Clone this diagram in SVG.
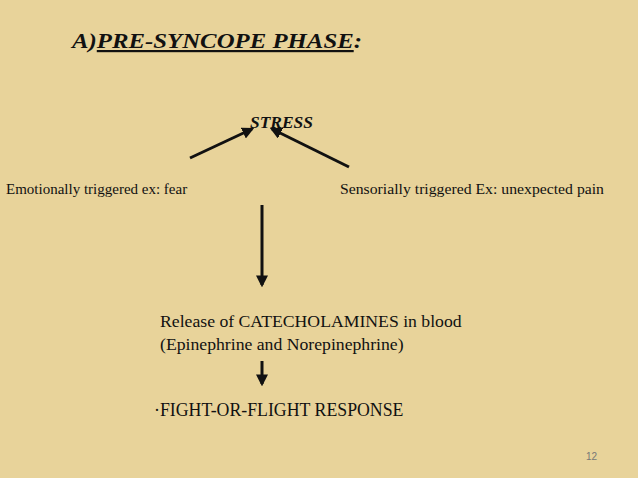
<svg xmlns="http://www.w3.org/2000/svg" width="638" height="478" viewBox="0 0 638 478">
<style>
.t{font-family:"Liberation Serif",serif;fill:#111}
.bi{font-style:italic;font-weight:bold}
.c{stroke:#111;stroke-width:3;fill:none}
</style>
<defs><marker id="a" viewBox="0 0 10 10" refX="8" refY="5" markerWidth="4" markerHeight="4" orient="auto"><path d="M0,0L10,5L0,10z" fill="#111"/></marker></defs>
<rect width="638" height="478" fill="#e8d39a"/>
<g id="title"><text class="t bi" x="72" y="48" font-size="22" textLength="290" lengthAdjust="spacingAndGlyphs">A)<tspan text-decoration="underline">PRE-SYNCOPE PHASE</tspan>:</text></g>
<g id="stress"><text class="t bi" x="250" y="128" font-size="16" textLength="63" lengthAdjust="spacingAndGlyphs">STRESS</text></g>
<g id="emo"><text class="t" x="6" y="194" font-size="15">Emotionally triggered ex: fear</text></g>
<g id="sens"><text class="t" x="340" y="194" font-size="15" textLength="264" lengthAdjust="spacingAndGlyphs">Sensorially triggered Ex: unexpected pain</text></g>
<g id="cat"><text class="t" x="160" y="327" font-size="17.7">Release of CATECHOLAMINES in blood</text><text class="t" x="160" y="350" font-size="17.7">(Epinephrine and Norepinephrine)</text></g>
<g id="fight"><text class="t" x="154" y="416" font-size="17.8">·FIGHT-OR-FLIGHT RESPONSE</text></g>
<g id="connectors">
<line class="c" x1="190" y1="158" x2="252" y2="129" marker-end="url(#a)"/>
<line class="c" x1="349" y1="167" x2="272" y2="129" marker-end="url(#a)"/>
<line class="c" x1="262" y1="205" x2="262" y2="285" marker-end="url(#a)"/>
<line class="c" x1="262" y1="361" x2="262" y2="384" marker-end="url(#a)"/>
</g>
<text x="586" y="460" font-family="Liberation Sans,sans-serif" font-size="10" fill="#777">12</text>
</svg>
